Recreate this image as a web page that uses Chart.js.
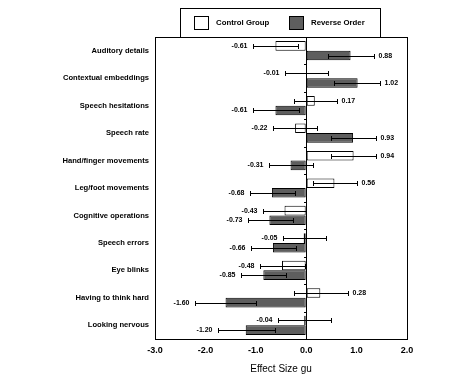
<!DOCTYPE html>
<html>
<head>
<meta charset="utf-8">
<script src="https://cdn.jsdelivr.net/npm/chart.js@4/dist/chart.umd.min.js"></script>
<style>
  html, body { margin: 0; padding: 0; background: #fff; }
  #wrap { width: 474px; height: 384px; }
</style>
</head>
<body>
<div id="wrap"><canvas id="effectChart" width="474" height="384"></canvas></div>
<script>
const categories = ['Auditory details', 'Contextual embeddings', 'Speech hesitations', 'Speech rate',
  'Hand/finger movements', 'Leg/foot movements', 'Cognitive operations', 'Speech errors',
  'Eye blinks', 'Having to think hard', 'Looking nervous'];
const seriesNames = ['Control Group', 'Reverse Order'];

const controlValues = [-0.61, -0.01, 0.17, -0.22, 0.94, 0.56, -0.43, -0.05, -0.48, 0.28, -0.04];
const controlLow = [-1.05, -0.43, -0.25, -0.65, 0.50, 0.13, -0.85, -0.47, -0.91, -0.24, -0.56];
const controlHigh = [-0.17, 0.44, 0.61, 0.21, 1.39, 1.00, -0.01, 0.39, -0.03, 0.82, 0.50];

const reverseValues = [0.88, 1.02, -0.61, 0.93, -0.31, -0.68, -0.73, -0.66, -0.85, -1.60, -1.20];
const reverseLow = [0.43, 0.56, -1.05, 0.50, -0.73, -1.11, -1.16, -1.10, -1.29, -2.20, -1.75];
const reverseHigh = [1.34, 1.47, -0.15, 1.39, 0.13, -0.22, -0.26, -0.20, -0.40, -0.99, -0.62];

const xTicks = [-3, -2, -1, 0, 1, 2];

const FONT = 'Arial, "Liberation Sans", Helvetica, sans-serif';
const fills = ['#ffffff', '#5e5e5e'];
const errLow = [controlLow, reverseLow];
const errHigh = [controlHigh, reverseHigh];
const values = [controlValues, reverseValues];

// error bars, value labels, frame, zero line and the boxed legend
const extras = {
  id: 'extras',
  afterDatasetsDraw(chart) {
    const ctx = chart.ctx;
    const x = chart.scales.x;
    const area = chart.chartArea;
    const x0 = x.getPixelForValue(0);
    ctx.save();
    ctx.strokeStyle = '#000';
    ctx.fillStyle = '#000';
    ctx.lineWidth = 1;

    // zero line and small ticks between categories
    ctx.beginPath();
    ctx.moveTo(Math.round(x0) + 0.5, area.top);
    ctx.lineTo(Math.round(x0) + 0.5, area.bottom);
    const step = (area.bottom - area.top) / categories.length;
    for (let i = 1; i < categories.length; i++) {
      const yy = Math.round(area.top + step * i) + 0.5;
      ctx.moveTo(Math.round(x0) - 2, yy);
      ctx.lineTo(Math.round(x0) + 0.5, yy);
    }
    ctx.stroke();

    ctx.font = 'bold 7px ' + FONT;
    ctx.textBaseline = 'middle';
    for (let d = 0; d < 2; d++) {
      const meta = chart.getDatasetMeta(d);
      meta.data.forEach((bar, i) => {
        const y = Math.round(bar.y) + 0.5;
        const lo = Math.round(x.getPixelForValue(errLow[d][i])) + 0.5;
        const hi = Math.round(x.getPixelForValue(errHigh[d][i])) + 0.5;
        ctx.beginPath();
        ctx.moveTo(lo, y); ctx.lineTo(hi, y);
        ctx.moveTo(lo, y - 2.5); ctx.lineTo(lo, y + 2.5);
        ctx.moveTo(hi, y - 2.5); ctx.lineTo(hi, y + 2.5);
        ctx.stroke();
        const v = values[d][i];
        if (v < 0) {
          ctx.textAlign = 'right';
          ctx.fillText(v.toFixed(2), lo - 6, y);
        } else {
          ctx.textAlign = 'left';
          ctx.fillText(v.toFixed(2), hi + 4, y);
        }
      });
    }

    // plot frame
    ctx.strokeRect(Math.round(area.left) + 0.5, Math.round(area.top) + 0.5,
      Math.round(area.right - area.left), Math.round(area.bottom - area.top));

    // legend box
    const lx = 180, ly = 8, lw = 200, lh = 29;
    ctx.fillStyle = '#fff';
    ctx.fillRect(lx, ly, lw, lh);
    ctx.strokeRect(lx + 0.5, ly + 0.5, lw, lh);
    const keys = [{ x: 194, tx: 216 }, { x: 289, tx: 311 }];
    ctx.font = 'bold 7.8px ' + FONT;
    ctx.textAlign = 'left';
    keys.forEach((k, d) => {
      ctx.fillStyle = fills[d];
      ctx.fillRect(k.x, 16, 14, 13);
      ctx.strokeRect(k.x + 0.5, 16.5, 14, 13);
      ctx.fillStyle = '#000';
      ctx.fillText(seriesNames[d], k.tx, 23);
    });
    ctx.restore();
  }
};

new Chart(document.getElementById('effectChart'), {
  type: 'bar',
  data: {
    labels: categories,
    datasets: [
      { label: seriesNames[0], data: controlValues, backgroundColor: fills[0],
        borderColor: '#000', borderWidth: 1, borderSkipped: false,
        barPercentage: 1, categoryPercentage: 0.7 },
      { label: seriesNames[1], data: reverseValues, backgroundColor: fills[1],
        borderColor: '#000', borderWidth: 1, borderSkipped: false,
        barPercentage: 1, categoryPercentage: 0.7 }
    ]
  },
  options: {
    indexAxis: 'y',
    responsive: false,
    animation: false,
    layout: { padding: { top: 37, right: 67, left: 5, bottom: 0 } },
    plugins: { legend: { display: false }, tooltip: { enabled: false } },
    scales: {
      x: {
        min: -3, max: 2,
        afterBuildTicks: scale => { scale.ticks = xTicks.map(v => ({ value: v })); },
        afterFit: scale => { scale.height = 45; },
        grid: { drawOnChartArea: false, drawTicks: false },
        border: { display: false },
        ticks: {
          padding: 6, color: '#000',
          font: { family: FONT, size: 9, weight: 'bold' },
          callback: v => Number(v).toFixed(1)
        },
        title: {
          display: true, text: 'Effect Size gu', color: '#000',
          font: { family: FONT, size: 10 },
          padding: { top: 8, bottom: 9 }
        }
      },
      y: {
        afterFit: scale => { scale.width = 150; },
        grid: { display: false, drawTicks: false },
        border: { display: false },
        ticks: {
          padding: 6, color: '#000',
          font: { family: FONT, size: 7.6, weight: 'bold' }
        }
      }
    }
  },
  plugins: [extras]
});
</script>
</body>
</html>
